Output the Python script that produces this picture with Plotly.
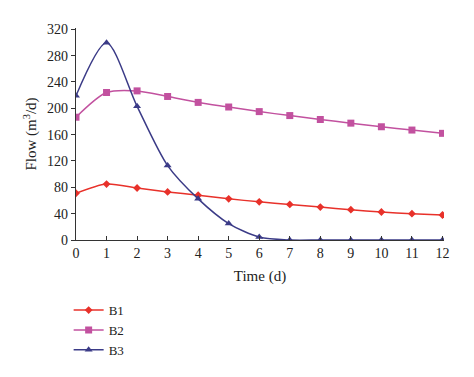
import plotly.graph_objects as go

days = list(range(13))
b1 = [71, 85, 79, 73, 68, 62.5, 58, 54, 50, 46, 42.5, 40, 38]
b2 = [186.5, 224, 226.5, 218, 209, 202, 195, 189, 183, 177.5, 172, 167, 162]
b3 = [219, 299.5, 203, 113, 62.5, 25, 4.5, 0, 0, 0, 0, 0, 0]
x_ticks = list(range(13))
y_ticks = [0, 40, 80, 120, 160, 200, 240, 280, 320]

FONT = "Liberation Serif"

fig = go.Figure()
fig.add_trace(go.Scatter(x=days, y=b1, name="B1", mode="lines+markers",
                         line=dict(color="#e8312a", width=1.5, shape="spline", smoothing=0.8),
                         marker=dict(symbol="diamond", size=6, color="#e8312a")))
fig.add_trace(go.Scatter(x=days, y=b2, name="B2", mode="lines+markers",
                         line=dict(color="#c2519f", width=1.5, shape="spline", smoothing=0.8),
                         marker=dict(symbol="square", size=7, color="#c2519f")))
fig.add_trace(go.Scatter(x=days, y=b3, name="B3", mode="lines+markers",
                         line=dict(color="#3b3b87", width=1.5, shape="spline", smoothing=0.8),
                         marker=dict(symbol="triangle-up", size=7, color="#3b3b87")))

fig.update_layout(
    width=466, height=369,
    margin=dict(l=68, r=30, t=20, b=134),
    paper_bgcolor="white", plot_bgcolor="white",
    font=dict(family=FONT, size=14, color="#222"),
    showlegend=True,
    legend=dict(x=-0.02, y=-0.26, xanchor="left", yanchor="top",
                font=dict(family=FONT, size=13, color="#222"),
                tracegroupgap=0, itemwidth=30, bgcolor="rgba(0,0,0,0)"),
)
fig.update_xaxes(range=[0, 12.05], tickvals=x_ticks, ticktext=[str(v) for v in x_ticks],
                 showline=True, linecolor="#333", linewidth=1.2, ticks="inside",
                 ticklen=4, tickcolor="#333", showgrid=False, zeroline=False,
                 automargin=False,
                 title=dict(text="Time (d)", font=dict(family=FONT, size=15), standoff=10),
                 tickfont=dict(family=FONT, size=14))
fig.update_yaxes(range=[0, 322], tickvals=y_ticks, ticktext=[str(v) for v in y_ticks],
                 showline=True, linecolor="#333", linewidth=1.2, ticks="outside",
                 ticklen=4, tickcolor="#333", showgrid=False, zeroline=False,
                 automargin=False,
                 title=dict(text="Flow (m<sup>3</sup>/d)", font=dict(family=FONT, size=15), standoff=6),
                 tickfont=dict(family=FONT, size=14))

fig.write_html("out.html")
